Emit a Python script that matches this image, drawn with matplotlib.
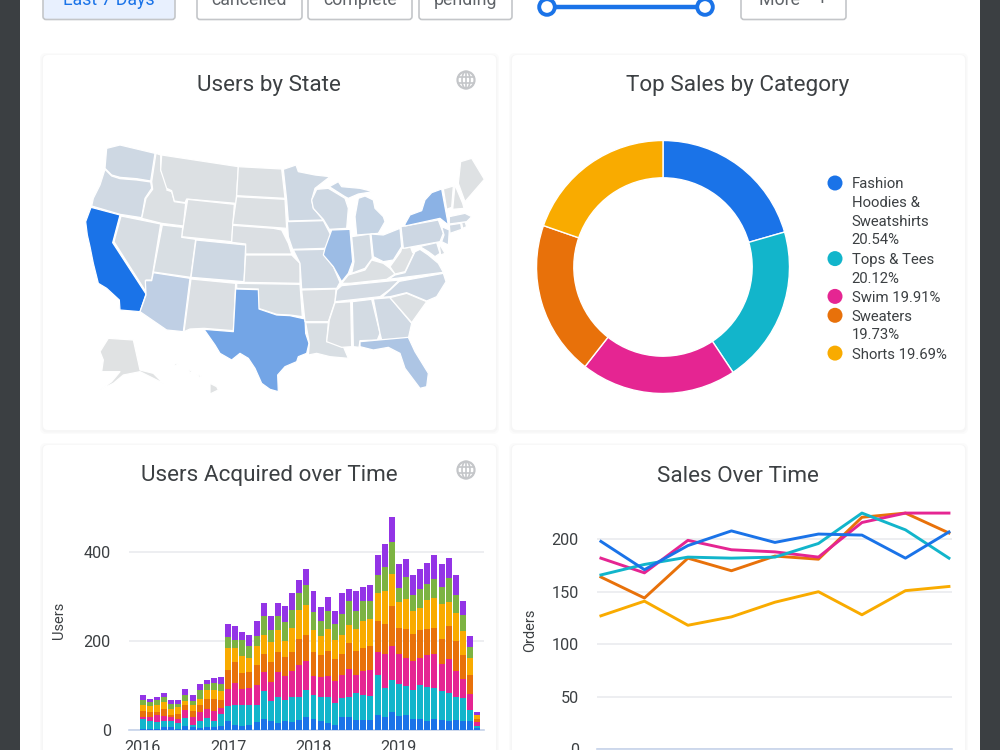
import matplotlib
matplotlib.use("Agg")
import matplotlib.pyplot as plt
from matplotlib.colors import LinearSegmentedColormap
from matplotlib.patches import Circle, Ellipse, FancyBboxPatch, Polygon, Rectangle
import numpy as np

plt.rcParams["font.family"] = ["Roboto", "DejaVu Sans"]

# stacked monthly users, Jan 2016 - Dec 2019
blue_users = [3, 3, 2, 7, 7, 3, 10, 7, 4, 7, 7, 10, 21, 12, 10, 12, 18, 25, 21, 15, 21, 18, 23, 29,
              25, 21, 15, 12, 29, 29, 23, 23, 23, 34, 29, 40, 32, 34, 25, 25, 21, 25, 23, 21, 23, 21, 21, 4]
teal_users = [21, 18, 16, 14, 14, 13, 16, 5, 16, 19, 13, 25, 33, 45, 47, 45, 39, 62, 44, 59, 47, 56, 51, 61,
              54, 53, 59, 48, 42, 45, 59, 56, 53, 90, 66, 72, 72, 64, 65, 76, 75, 70, 64, 63, 51, 50, 25, 6]
pink_users = [5, 8, 16, 11, 8, 9, 20, 17, 20, 22, 23, 14, 37, 48, 34, 37, 45, 43, 43, 56, 54, 58, 72, 65,
              43, 45, 48, 51, 53, 64, 42, 53, 59, 50, 75, 76, 66, 64, 65, 61, 72, 75, 62, 75, 58, 44, 34, 7]
orange_users = [14, 11, 7, 16, 5, 12, 9, 14, 16, 22, 27, 19, 43, 47, 37, 37, 45, 41, 44, 44, 41, 42, 58, 58,
                53, 50, 56, 49, 47, 58, 54, 53, 54, 71, 67, 90, 59, 64, 60, 62, 59, 59, 55, 74, 68, 54, 43, 7]
yellow_users = [13, 13, 16, 15, 13, 14, 10, 13, 13, 20, 20, 19, 49, 31, 39, 30, 42, 43, 45, 51, 37, 56, 65, 67,
                50, 42, 49, 43, 43, 40, 49, 59, 60, 63, 76, 72, 59, 67, 51, 50, 65, 67, 78, 55, 63, 53, 38, 9]
green_users = [11, 9, 11, 11, 11, 7, 14, 9, 20, 13, 16, 16, 25, 20, 34, 28, 22, 42, 28, 31, 42, 40, 39, 45,
               39, 34, 40, 34, 47, 53, 40, 45, 40, 40, 53, 71, 31, 51, 37, 42, 36, 42, 40, 53, 40, 37, 25, 1]
purple_users = [11, 8, 6, 8, 9, 9, 14, 13, 14, 9, 11, 17, 31, 31, 20, 25, 34, 28, 31, 28, 37, 37, 28, 37,
                48, 31, 31, 31, 46, 28, 45, 31, 36, 45, 51, 58, 53, 40, 45, 46, 46, 54, 51, 46, 45, 31, 25, 6]
bar_series = [blue_users, teal_users, pink_users, orange_users, yellow_users, green_users, purple_users]
bar_colors = ["#1a73e8", "#12b5cb", "#e52592", "#e8710a", "#f9ab00", "#7cb342", "#9334e6"]
year_ticks = [0, 12, 24, 36]
year_labels = ["2016", "2017", "2018", "2019"]

# orders per period, one line per category
blue_orders = [198, 171, 194, 208, 197, 205, 204, 182, 207]
teal_orders = [166, 176, 183, 182, 183, 196, 225, 209, 182]
pink_orders = [182, 168, 199, 190, 188, 183, 216, 225, 225]
orange_orders = [164, 144, 182, 170, 184, 181, 221, 225, 206]
yellow_orders = [127, 141, 118, 126, 140, 150, 128, 151, 155]
line_series = [orange_orders, yellow_orders, pink_orders, teal_orders, blue_orders]
line_colors = ["#e8710a", "#f9ab00", "#e52592", "#12b5cb", "#1a73e8"]

# donut
category_names = ["Fashion\nHoodies &\nSweatshirts\n20.54%", "Tops & Tees\n20.12%", "Swim 19.91%",
                  "Sweaters\n19.73%", "Shorts 19.69%"]
category_share = [20.54, 20.12, 19.91, 19.73, 19.69]
category_colors = ["#1a73e8", "#12b5cb", "#e52592", "#e8710a", "#f9ab00"]

# users per state, relative to California = 100
state_users = {
    "CA": 100, "TX": 55, "NY": 43, "IL": 34, "FL": 26, "AZ": 17, "MI": 13, "OH": 13, "WA": 9, "OR": 8,
    "MN": 9, "WI": 9, "IA": 8, "CO": 9, "MO": 8, "PA": 10, "NJ": 11, "GA": 8, "NC": 10, "VA": 8, "TN": 6,
    "IN": 7, "AL": 7, "NV": 5, "UT": 4, "ID": 2, "MT": 2, "WY": 2, "ND": 2, "SD": 2, "NE": 3, "KS": 3,
    "OK": 4, "NM": 3, "AR": 3, "LA": 4, "MS": 3, "KY": 2, "WV": 1, "SC": 2, "MD": 8, "DE": 5, "CT": 8,
    "RI": 5, "MA": 8, "VT": 1, "NH": 1, "ME": 1, "AK": 0, "HI": 0,
}
# state outlines, in crop pixels
state_shapes = {
    "WA": [[(200, 85), (240, 75), (345, 100), (332, 183), (290, 176), (240, 172), (215, 165), (195, 145)]],
    "OR": [[(195, 148), (215, 168), (240, 176), (290, 180), (332, 186), (335, 205), (315, 235), (305, 293),
            (240, 283), (155, 258), (160, 235), (180, 195)]],
    "CA": [[(153, 262), (240, 285), (218, 368), (318, 522), (300, 575), (240, 570), (238, 540), (200, 505),
            (175, 490), (160, 430), (150, 380), (142, 345), (137, 305)]],
    "NV": [[(243, 288), (362, 312), (335, 480), (318, 480), (318, 516), (222, 365)]],
    "ID": [[(348, 100), (362, 105), (362, 150), (385, 205), (380, 210), (395, 215), (403, 245), (437, 250),
            (430, 318), (365, 310), (305, 295), (318, 235), (338, 208), (335, 185)]],
    "MT": [[(365, 105), (595, 140), (588, 250), (440, 237), (435, 248), (403, 243), (395, 212), (380, 205),
            (362, 150)]],
    "WY": [[(443, 238), (583, 253), (575, 365), (425, 350)]],
    "UT": [[(367, 315), (428, 322), (425, 352), (467, 358), (452, 472), (340, 456)]],
    "CO": [[(468, 360), (617, 375), (612, 485), (453, 472)]],
    "AZ": [[(340, 458), (450, 475), (430, 635), (380, 630), (300, 575), (318, 525), (316, 482), (335, 482)]],
    "NM": [[(453, 477), (587, 490), (580, 632), (492, 625), (450, 627), (432, 635)]],
    "ND": [[(595, 140), (725, 147), (735, 235), (590, 227)]],
    "SD": [[(590, 230), (735, 238), (740, 325), (700, 322), (578, 313)]],
    "NE": [[(578, 316), (700, 325), (725, 330), (745, 370), (755, 402), (617, 402), (617, 372), (575, 367)]],
    "KS": [[(617, 405), (755, 405), (780, 430), (780, 490), (612, 487)]],
    "OK": [[(590, 490), (780, 493), (787, 590), (750, 585), (710, 583), (655, 565), (655, 507), (590, 505)]],
    "TX": [[(587, 507), (655, 509), (657, 567), (710, 585), (750, 587), (795, 597), (797, 640), (807, 670),
            (800, 700), (775, 710), (770, 725), (735, 740), (713, 765), (715, 815), (690, 808), (665, 790),
            (645, 745), (625, 715), (600, 700), (575, 720), (540, 700), (525, 675), (492, 628), (580, 635)]],
    "MN": [[(730, 148), (768, 135), (775, 155), (825, 165), (870, 170), (825, 205), (815, 240), (820, 265),
            (850, 300), (745, 303), (740, 240)]],
    "IA": [[(742, 305), (850, 302), (875, 350), (855, 385), (758, 388), (745, 350)]],
    "MO": [[(760, 390), (855, 388), (852, 405), (880, 440), (900, 487), (890, 505), (785, 507), (780, 430)]],
    "AR": [[(785, 510), (888, 507), (885, 545), (865, 605), (795, 605)]],
    "LA": [[(797, 608), (865, 608), (860, 665), (905, 668), (925, 715), (870, 710), (830, 700), (805, 705),
            (808, 670)]],
    "WI": [[(830, 208), (865, 205), (915, 235), (925, 265), (920, 325), (868, 328), (850, 298), (820, 265),
            (815, 240)]],
    "IL": [[(875, 330), (930, 328), (938, 425), (925, 460), (905, 485), (880, 440), (850, 405), (855, 385)]],
    "IN": [[(935, 350), (990, 342), (997, 415), (975, 445), (935, 460), (942, 425)]],
    "MI": [[(950, 345), (945, 290), (955, 235), (975, 228), (1000, 240), (1005, 265), (1030, 290), (1035, 305),
            (1015, 340)],
           [(868, 200), (895, 185), (905, 200), (960, 205), (1000, 215), (955, 222), (925, 235), (915, 230)]],
    "OH": [[(993, 342), (1030, 345), (1080, 325), (1085, 380), (1060, 420), (1030, 425), (1000, 410)]],
    "KY": [[(905, 490), (925, 465), (975, 450), (995, 420), (1030, 430), (1050, 445), (1065, 462), (1040, 478),
            (930, 490)]],
    "TN": [[(905, 497), (1078, 480), (1050, 508), (1020, 530), (885, 545), (890, 510)]],
    "MS": [[(885, 548), (932, 545), (935, 680), (905, 682), (860, 665), (868, 600)]],
    "AL": [[(937, 545), (995, 538), (1020, 640), (1012, 660), (960, 662), (957, 682), (940, 680)]],
    "GA": [[(1000, 537), (1050, 533), (1115, 610), (1105, 655), (1025, 660), (1020, 640)]],
    "FL": [[(960, 665), (1105, 652), (1125, 695), (1165, 760), (1160, 800), (1140, 805), (1095, 745),
            (1080, 700), (1045, 682), (1000, 690), (960, 680)]],
    "SC": [[(1050, 533), (1100, 520), (1160, 545), (1115, 608)]],
    "NC": [[(1025, 532), (1050, 510), (1078, 484), (1210, 460), (1218, 485), (1190, 530), (1160, 543),
            (1100, 518), (1050, 530)]],
    "VA": [[(1045, 478), (1065, 465), (1095, 458), (1125, 395), (1140, 388), (1165, 405), (1195, 430), (1210, 457)]],
    "WV": [[(1050, 440), (1082, 395), (1085, 385), (1112, 382), (1118, 398), (1140, 385), (1125, 392), (1095, 455),
            (1065, 462)]],
    "PA": [[(1083, 320), (1195, 300), (1210, 340), (1200, 365), (1090, 385)]],
    "NY": [[(1095, 312), (1110, 285), (1145, 272), (1155, 240), (1175, 218), (1205, 207), (1225, 315),
            (1200, 295), (1095, 318)],
           [(1225, 330), (1255, 312), (1240, 330)]],
    "MD": [[(1115, 385), (1190, 368), (1200, 400), (1185, 410), (1165, 395), (1140, 380)]],
    "DE": [[(1197, 370), (1215, 400), (1202, 405)]],
    "NJ": [[(1205, 320), (1228, 330), (1225, 375), (1205, 365), (1212, 345)]],
    "CT": [[(1228, 315), (1262, 310), (1265, 328), (1230, 340)]],
    "RI": [[(1265, 308), (1275, 305), (1280, 320), (1268, 325)]],
    "MA": [[(1228, 290), (1275, 280), (1295, 290), (1280, 305), (1228, 312)]],
    "VT": [[(1210, 207), (1240, 198), (1235, 262), (1220, 268)]],
    "NH": [[(1245, 195), (1268, 250), (1272, 265), (1238, 268)]],
    "ME": [[(1262, 125), (1295, 115), (1333, 178), (1275, 245), (1255, 190)]],
    "AK": [[(205, 655), (280, 660), (300, 750), (340, 760), (370, 790), (340, 775), (300, 755), (250, 765),
            (220, 790), (180, 810), (215, 785), (240, 755), (185, 755), (190, 720), (180, 695)]],
    "HI": [[(510, 790), (530, 800), (535, 810), (510, 822)], [(445, 748), (455, 753), (450, 760)],
           [(403, 730), (415, 733), (405, 738)], [(470, 762), (485, 768), (478, 772)]],
}

W, H = 1000, 750
text_dark = "#3c4043"
grid_color = "#e8eaed"


def px_axes(fig, x0, y0, x1, y1):
    # axes placed by picture pixels
    ax = fig.add_axes([x0 / W, 1 - y1 / H, (x1 - x0) / W, (y1 - y0) / H])
    ax.patch.set_alpha(0)
    return ax


def draw_card(bg, x0, y0, x1, y1):
    for grow, col in [(3, "#fbfbfb"), (1.5, "#f6f6f6")]:
        bg.add_patch(FancyBboxPatch((x0 - grow, y0 - grow + 1), x1 - x0 + 2 * grow, y1 - y0 + 2 * grow,
                                    boxstyle="round,pad=0,rounding_size=6", fc=col, ec="none"))
    bg.add_patch(FancyBboxPatch((x0, y0), x1 - x0, y1 - y0, boxstyle="round,pad=0,rounding_size=5",
                                fc="white", ec="none"))


def draw_button(bg, x0, x1, label, fill="white", text_col="#5f6368"):
    bg.add_patch(FancyBboxPatch((x0, -20), x1 - x0, 39.5, boxstyle="round,pad=0,rounding_size=3",
                                fc=fill, ec="#c4c6c9", lw=1.2))
    bg.text((x0 + x1) / 2, 0, label, ha="center", va="center", fontsize=12.8, color=text_col)


def draw_globe(bg, cx, cy):
    col = "#c4c6c9"
    bg.add_patch(Circle((cx, cy), 8.5, fc="none", ec=col, lw=1.6))
    bg.add_patch(Ellipse((cx, cy), 8, 17, fc="none", ec=col, lw=1.2))
    bg.plot([cx - 8, cx + 8], [cy - 3, cy - 3], color=col, lw=1.2)
    bg.plot([cx - 8, cx + 8], [cy + 3, cy + 3], color=col, lw=1.2)
    bg.plot([cx, cx], [cy - 8, cy + 8], color=col, lw=1.2)


fig = plt.figure(figsize=(10, 7.5), dpi=100, facecolor="white")

bg = fig.add_axes([0, 0, 1, 1])
bg.set_xlim(0, W)
bg.set_ylim(H, 0)
bg.axis("off")
bg.add_patch(Rectangle((0, 0), 20, H, fc="#3b3f42", ec="none"))
bg.add_patch(Rectangle((980, 0), 20, H, fc="#3b3f42", ec="none"))

draw_button(bg, 43, 175, "Last 7 Days", fill="#e8f0fe", text_col="#1a73e8")
draw_button(bg, 197, 302, "cancelled")
draw_button(bg, 308, 412, "complete")
draw_button(bg, 419, 512, "pending")
draw_button(bg, 741, 846, "More    +")
bg.plot([547, 705], [7, 7], color="#1a73e8", lw=3.2, solid_capstyle="butt")
for sx in (547, 705):
    bg.add_patch(Circle((sx, 7), 7.8, fc="white", ec="#1a73e8", lw=2.8, zorder=3))

draw_card(bg, 43, 55, 496, 430)
draw_card(bg, 512, 55, 965, 430)
draw_card(bg, 43, 445, 496, 780)
draw_card(bg, 512, 445, 965, 780)

title_kw = dict(ha="center", va="center", fontsize=16.2, color=text_dark)
bg.text(269, 86, "Users by State", **title_kw)
bg.text(738, 86, "Top Sales by Category", **title_kw)
bg.text(269, 476, "Users Acquired over Time", **title_kw)
bg.text(738, 476, "Sales Over Time", **title_kw)
draw_globe(bg, 466, 80)
draw_globe(bg, 466, 470)

# map
map_ax = px_axes(fig, 40, 120, 500, 420)
map_ax.set_xlim(0, 1380)
map_ax.set_ylim(900, 0)
map_ax.axis("off")
state_cmap = LinearSegmentedColormap.from_list("users", ["#e0e2e3", "#1a73e8"])
for state, parts in state_shapes.items():
    for part in parts:
        map_ax.add_patch(Polygon(part, closed=True, fc=state_cmap(state_users[state] / 100),
                                 ec="white", lw=0.9, joinstyle="round"))

# donut
pie_ax = px_axes(fig, 530, 134, 796, 400)
pie_ax.pie(category_share, colors=category_colors, startangle=90, counterclock=False, radius=1,
           wedgeprops=dict(width=0.295, edgecolor="white", linewidth=1))
pie_ax.set_xlim(-133 / 126.5, 133 / 126.5)
pie_ax.set_ylim(-133 / 126.5, 133 / 126.5)

legend_y = 184
for name, col in zip(category_names, category_colors):
    bg.add_patch(Circle((835, legend_y - 1), 7.5, fc=col, ec="none"))
    n_lines = name.count("\n") + 1
    bg.text(851.5, legend_y - 6.5, name, ha="left", va="top", fontsize=10.7, color=text_dark,
            linespacing=1.42)
    legend_y += 18.9 * n_lines

# users stacked bars
bar_ax = px_axes(fig, 129, 510, 484, 730)
months = np.arange(len(blue_users))
bottom = np.zeros(len(blue_users))
for values, col in zip(bar_series, bar_colors):
    bar_ax.bar(months, values, bottom=bottom, width=0.84, color=col, zorder=3)
    bottom += np.array(values)
bar_ax.set_xlim(-1.925, 47.96)
bar_ax.set_ylim(0, 220 / 0.4455)
bar_ax.set_yticks([0, 200, 400])
bar_ax.set_xticks(year_ticks, year_labels)
bar_ax.set_ylabel("Users", fontsize=10.5, color=text_dark)
bar_ax.yaxis.set_label_coords(-0.178, 0.5)

# orders lines
line_ax = px_axes(fig, 597, 505, 952, 749)
for values, col in zip(line_series, line_colors):
    line_ax.plot(range(len(values)), values, color=col, lw=2.1, zorder=3, solid_joinstyle="round")
line_ax.set_xlim(-0.09, 8.07)
line_ax.set_ylim(0, 232.7)
line_ax.set_yticks([0, 50, 100, 150, 200])
line_ax.set_xticks([])
line_ax.set_ylabel("Orders", fontsize=10.5, color=text_dark)
line_ax.yaxis.set_label_coords(-0.17, 0.485)

for ax in (bar_ax, line_ax):
    for side in ("top", "left", "right"):
        ax.spines[side].set_visible(False)
    ax.spines["bottom"].set_color("#c6d3ea")
    ax.spines["bottom"].set_linewidth(1.2)
    ax.grid(axis="y", color=grid_color, lw=1.1, zorder=0)
    ax.set_axisbelow(True)
    ax.tick_params(axis="both", length=0, labelsize=11.7, labelcolor=text_dark)
    ax.tick_params(axis="y", pad=13.2)
    ax.tick_params(axis="x", pad=7)

fig.savefig("out.png", dpi=100)
